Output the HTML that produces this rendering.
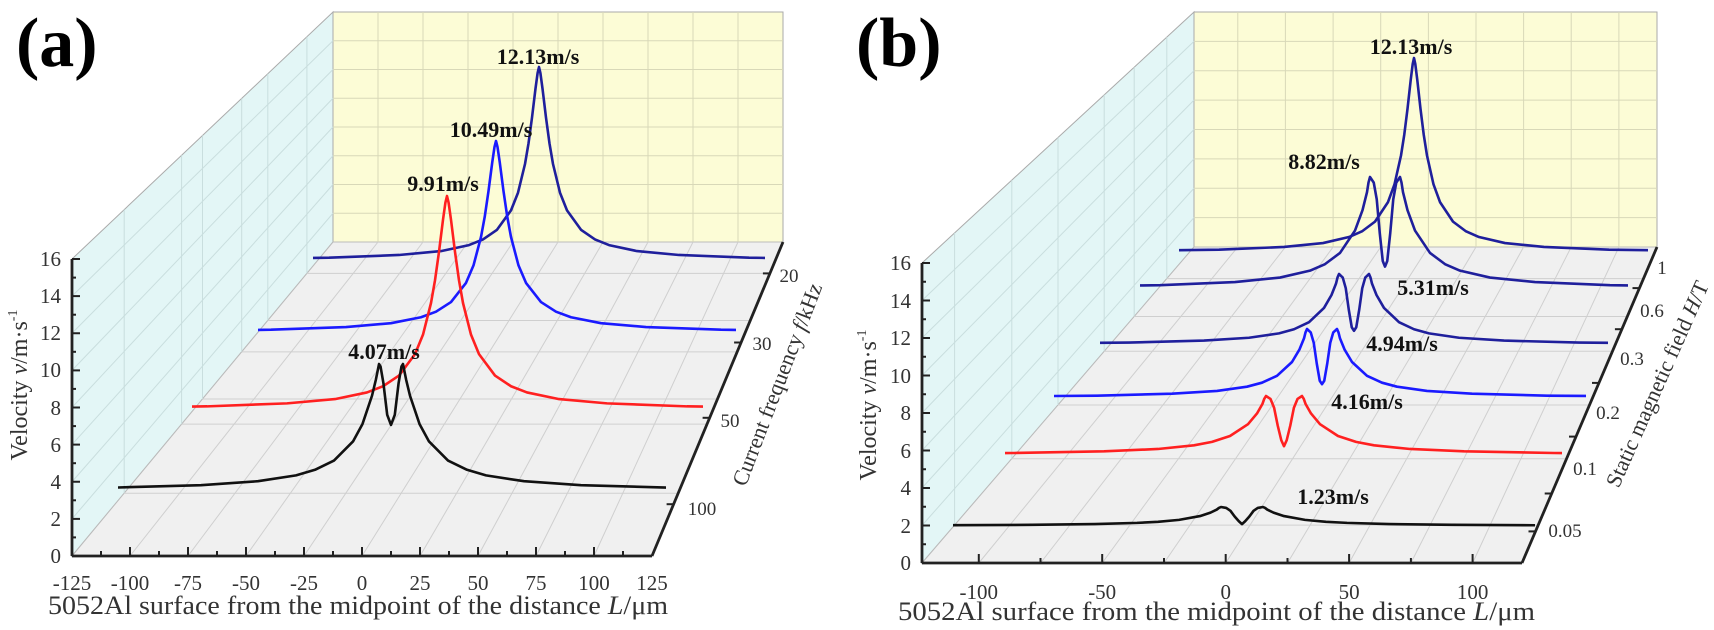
<!DOCTYPE html>
<html><head><meta charset="utf-8"><style>
html,body{margin:0;padding:0;background:#fff;}
svg{display:block;font-family:"Liberation Serif",serif;}
</style></head><body>
<svg width="1714" height="630" viewBox="0 0 1714 630" xmlns="http://www.w3.org/2000/svg" font-family="Liberation Serif, serif">
<defs>
<clipPath id="ca1"><rect x="313" y="0" width="452" height="630"/></clipPath>
<clipPath id="ca2"><rect x="258" y="0" width="478" height="630"/></clipPath>
<clipPath id="ca3"><rect x="192" y="0" width="511" height="630"/></clipPath>
<clipPath id="ca4"><rect x="118" y="0" width="548" height="630"/></clipPath>
<clipPath id="cb1"><rect x="1179" y="0" width="469" height="630"/></clipPath>
<clipPath id="cb2"><rect x="1140" y="0" width="488" height="630"/></clipPath>
<clipPath id="cb3"><rect x="1100" y="0" width="508" height="630"/></clipPath>
<clipPath id="cb4"><rect x="1054" y="0" width="532" height="630"/></clipPath>
<clipPath id="cb5"><rect x="1005" y="0" width="557" height="630"/></clipPath>
<clipPath id="cb6"><rect x="953" y="0" width="582" height="630"/></clipPath>
</defs>

<text x="16" y="66" font-size="70" font-weight="bold">(a)</text>
<text x="856" y="66" font-size="70" font-weight="bold">(b)</text>

<!-- ===== Panel A ===== -->
<polygon points="72,259 333,12 333,242 72,556" fill="#e3f6f6" stroke="#aaa"/>
<polygon points="333,12 783,12 783,242 333,242" fill="#fcfcd6" stroke="#aaa"/>
<polygon points="72,556 652,556 783,242 333,242" fill="#f0f0f0" stroke="#bbb"/>
<g stroke="#d8d8b8" stroke-width="1">
<line x1="333" y1="213.25" x2="783" y2="213.25"/><line x1="333" y1="184.5" x2="783" y2="184.5"/><line x1="333" y1="155.75" x2="783" y2="155.75"/><line x1="333" y1="127" x2="783" y2="127"/><line x1="333" y1="98.25" x2="783" y2="98.25"/><line x1="333" y1="69.5" x2="783" y2="69.5"/><line x1="333" y1="40.75" x2="783" y2="40.75"/>
<line x1="378" y1="242" x2="378" y2="12"/><line x1="423" y1="242" x2="423" y2="12"/><line x1="468" y1="242" x2="468" y2="12"/><line x1="513" y1="242" x2="513" y2="12"/><line x1="558" y1="242" x2="558" y2="12"/><line x1="603" y1="242" x2="603" y2="12"/><line x1="648" y1="242" x2="648" y2="12"/><line x1="693" y1="242" x2="693" y2="12"/><line x1="738" y1="242" x2="738" y2="12"/>
</g>
<g stroke="#c9dede" stroke-width="1">
<line x1="72" y1="518.9" x2="333" y2="213.25"/><line x1="72" y1="481.75" x2="333" y2="184.5"/><line x1="72" y1="444.6" x2="333" y2="155.75"/><line x1="72" y1="407.5" x2="333" y2="127"/><line x1="72" y1="370.4" x2="333" y2="98.25"/><line x1="72" y1="333.25" x2="333" y2="69.5"/><line x1="72" y1="296.1" x2="333" y2="40.75"/>
<line x1="124.2" y1="209.6" x2="124.2" y2="493.2"/><line x1="181.6" y1="155.3" x2="181.6" y2="424.1"/><line x1="202.5" y1="135.5" x2="202.5" y2="399"/><line x1="241.7" y1="98.5" x2="241.7" y2="351.9"/><line x1="267.8" y1="73.8" x2="267.8" y2="320.5"/><line x1="306.9" y1="36.7" x2="306.9" y2="273.4"/>
</g>
<g stroke="#cfcfcf" stroke-width="1">
<line x1="130" y1="556" x2="378" y2="242"/><line x1="188" y1="556" x2="423" y2="242"/><line x1="246" y1="556" x2="468" y2="242"/><line x1="304" y1="556" x2="513" y2="242"/><line x1="362" y1="556" x2="558" y2="242"/><line x1="420" y1="556" x2="603" y2="242"/><line x1="478" y1="556" x2="648" y2="242"/><line x1="536" y1="556" x2="693" y2="242"/><line x1="594" y1="556" x2="738" y2="242"/>
<line x1="124.2" y1="493.2" x2="678.2" y2="493.2"/><line x1="181.6" y1="424.1" x2="707" y2="424.1"/><line x1="202.5" y1="399" x2="717.5" y2="399"/><line x1="241.7" y1="351.9" x2="737.2" y2="351.9"/><line x1="267.8" y1="320.5" x2="750.3" y2="320.5"/><line x1="306.9" y1="273.4" x2="769.9" y2="273.4"/>
</g>
<g stroke="#222" stroke-width="2.8">
<line x1="72" y1="556" x2="652" y2="556"/><line x1="72" y1="259" x2="72" y2="556"/><line x1="652" y1="556" x2="783" y2="242"/>
</g>
<g stroke="#222" stroke-width="2">
<line x1="72" y1="556" x2="80" y2="556"/><line x1="72" y1="518.9" x2="80" y2="518.9"/><line x1="72" y1="481.75" x2="80" y2="481.75"/><line x1="72" y1="444.6" x2="80" y2="444.6"/><line x1="72" y1="407.5" x2="80" y2="407.5"/><line x1="72" y1="370.4" x2="80" y2="370.4"/><line x1="72" y1="333.25" x2="80" y2="333.25"/><line x1="72" y1="296.1" x2="80" y2="296.1"/><line x1="72" y1="259" x2="80" y2="259"/>
<line x1="72" y1="537.4" x2="76" y2="537.4"/><line x1="72" y1="500.3" x2="76" y2="500.3"/><line x1="72" y1="463.2" x2="76" y2="463.2"/><line x1="72" y1="426.1" x2="76" y2="426.1"/><line x1="72" y1="388.9" x2="76" y2="388.9"/><line x1="72" y1="351.8" x2="76" y2="351.8"/><line x1="72" y1="314.7" x2="76" y2="314.7"/><line x1="72" y1="277.6" x2="76" y2="277.6"/>
<line x1="130" y1="556" x2="130" y2="547"/><line x1="188" y1="556" x2="188" y2="547"/><line x1="246" y1="556" x2="246" y2="547"/><line x1="304" y1="556" x2="304" y2="547"/><line x1="362" y1="556" x2="362" y2="547"/><line x1="420" y1="556" x2="420" y2="547"/><line x1="478" y1="556" x2="478" y2="547"/><line x1="536" y1="556" x2="536" y2="547"/><line x1="594" y1="556" x2="594" y2="547"/>
<line x1="101" y1="556" x2="101" y2="551"/><line x1="159" y1="556" x2="159" y2="551"/><line x1="217" y1="556" x2="217" y2="551"/><line x1="275" y1="556" x2="275" y2="551"/><line x1="333" y1="556" x2="333" y2="551"/><line x1="391" y1="556" x2="391" y2="551"/><line x1="449" y1="556" x2="449" y2="551"/><line x1="507" y1="556" x2="507" y2="551"/><line x1="565" y1="556" x2="565" y2="551"/><line x1="623" y1="556" x2="623" y2="551"/>
<line x1="769.9" y1="273.4" x2="762.9" y2="273.4"/><line x1="741.1" y1="342.5" x2="734.1" y2="342.5"/><line x1="709.6" y1="417.8" x2="702.6" y2="417.8"/><line x1="673.6" y1="504.2" x2="666.6" y2="504.2"/>
</g>
<g font-size="21" fill="#333" text-anchor="end">
<text x="61" y="563">0</text><text x="61" y="526">2</text><text x="61" y="489">4</text><text x="61" y="452">6</text><text x="61" y="415">8</text><text x="61" y="377">10</text><text x="61" y="340">12</text><text x="61" y="303">14</text><text x="61" y="266">16</text>
</g>
<g font-size="21" fill="#333" text-anchor="middle">
<text x="72" y="590">-125</text><text x="130" y="590">-100</text><text x="188" y="590">-75</text><text x="246" y="590">-50</text><text x="304" y="590">-25</text><text x="362" y="590">0</text><text x="420" y="590">25</text><text x="478" y="590">50</text><text x="536" y="590">75</text><text x="594" y="590">100</text><text x="652" y="590">125</text>
</g>
<g font-size="19" fill="#333" text-anchor="middle">
<text x="789" y="282">20</text><text x="762" y="350">30</text><text x="730" y="427">50</text><text x="702" y="515">100</text>
</g>
<text x="48" y="614" font-size="26" fill="#333" textLength="620" lengthAdjust="spacingAndGlyphs">5052Al surface from the midpoint of the distance <tspan font-style="italic">L</tspan>/μm</text>
<text transform="translate(27,385) rotate(-90)" font-size="24" fill="#333" text-anchor="middle">Velocity <tspan font-style="italic">v</tspan>/m·s<tspan font-size="14" dy="-10">-1</tspan></text>
<text transform="translate(784,387) rotate(-69)" font-size="22" fill="#333" text-anchor="middle">Current frequency <tspan font-style="italic">f</tspan>/kHz</text>

<!-- curves A -->
<g fill="none" stroke-width="2.6" stroke-linejoin="round">
<g clip-path="url(#ca1)"><path vector-effect="non-scaling-stroke" stroke="#1f1f9c" transform="translate(539,261) scale(14,-194)" d="M-45,0.0033L-25,0.0079L-15,0.017L-10,0.031L-7,0.051L-5,0.082L-4,0.111L-3,0.161L-2,0.261L-1.5,0.352L-1,0.5L-0.75,0.606L-0.5,0.739L-0.25,0.889L-0.1,0.969L0,1L0.1,0.969L0.25,0.889L0.5,0.739L0.75,0.606L1,0.5L1.5,0.352L2,0.261L3,0.161L4,0.111L5,0.082L7,0.051L10,0.031L15,0.017L25,0.0079L45,0.0033"/></g>
<g clip-path="url(#ca2)"><path vector-effect="non-scaling-stroke" stroke="#1a1aff" transform="translate(496,333) scale(15,-192)" d="M-45,0.0033L-25,0.0079L-15,0.017L-10,0.031L-7,0.051L-5,0.082L-4,0.111L-3,0.161L-2,0.261L-1.5,0.352L-1,0.5L-0.75,0.606L-0.5,0.739L-0.25,0.889L-0.1,0.969L0,1L0.1,0.969L0.25,0.889L0.5,0.739L0.75,0.606L1,0.5L1.5,0.352L2,0.261L3,0.161L4,0.111L5,0.082L7,0.051L10,0.031L15,0.017L25,0.0079L45,0.0033"/></g>
<g clip-path="url(#ca3)"><path vector-effect="non-scaling-stroke" stroke="#ff2020" transform="translate(447,410) scale(16,-214)" d="M-45,0.0033L-25,0.0079L-15,0.017L-10,0.031L-7,0.051L-5,0.082L-4,0.111L-3,0.161L-2,0.261L-1.5,0.352L-1,0.5L-0.75,0.606L-0.5,0.739L-0.25,0.889L-0.1,0.969L0,1L0.1,0.969L0.25,0.889L0.5,0.739L0.75,0.606L1,0.5L1.5,0.352L2,0.261L3,0.161L4,0.111L5,0.082L7,0.051L10,0.031L15,0.017L25,0.0079L45,0.0033"/></g>
<g clip-path="url(#ca4)"><path vector-effect="non-scaling-stroke" stroke="#111" transform="translate(391,491) scale(19,-127)" d="M-45,0.005L-25,0.012L-15,0.025L-10,0.046L-7,0.077L-5,0.123L-4,0.167L-3,0.24L-2,0.39L-1.5,0.528L-1,0.75L-0.8,0.874L-0.63,1L-0.55,0.98L-0.4,0.85L-0.2,0.6L0,0.52L0.2,0.6L0.4,0.85L0.55,0.98L0.63,1L0.8,0.874L1,0.75L1.5,0.528L2,0.39L3,0.24L4,0.167L5,0.123L7,0.077L10,0.046L15,0.025L25,0.012L45,0.005"/></g>
</g>
<g font-size="22" font-weight="bold" fill="#111" text-anchor="middle">
<text x="538" y="64">12.13m/s</text><text x="491" y="137">10.49m/s</text><text x="443" y="191">9.91m/s</text><text x="384" y="359">4.07m/s</text>
</g>

<!-- ===== Panel B ===== -->
<polygon points="922,263 1194,12 1194,247 922,563" fill="#e3f6f6" stroke="#aaa"/>
<polygon points="1194,12 1657,12 1657,247 1194,247" fill="#fcfcd6" stroke="#aaa"/>
<polygon points="922,563 1522,563 1657,247 1194,247" fill="#f0f0f0" stroke="#bbb"/>
<g stroke="#d8d8b8" stroke-width="1">
<line x1="1194" y1="217.6" x2="1657" y2="217.6"/><line x1="1194" y1="188.25" x2="1657" y2="188.25"/><line x1="1194" y1="158.9" x2="1657" y2="158.9"/><line x1="1194" y1="129.5" x2="1657" y2="129.5"/><line x1="1194" y1="100.1" x2="1657" y2="100.1"/><line x1="1194" y1="70.75" x2="1657" y2="70.75"/><line x1="1194" y1="41.4" x2="1657" y2="41.4"/>
<line x1="1237.8" y1="247" x2="1237.8" y2="12"/><line x1="1285.4" y1="247" x2="1285.4" y2="12"/><line x1="1333.1" y1="247" x2="1333.1" y2="12"/><line x1="1380.7" y1="247" x2="1380.7" y2="12"/><line x1="1428.4" y1="247" x2="1428.4" y2="12"/><line x1="1476" y1="247" x2="1476" y2="12"/><line x1="1523.6" y1="247" x2="1523.6" y2="12"/><line x1="1571.2" y1="247" x2="1571.2" y2="12"/><line x1="1618.9" y1="247" x2="1618.9" y2="12"/>
</g>
<g stroke="#c9dede" stroke-width="1">
<line x1="922" y1="525.5" x2="1194" y2="217.6"/><line x1="922" y1="488" x2="1194" y2="188.25"/><line x1="922" y1="450.5" x2="1194" y2="158.9"/><line x1="922" y1="413" x2="1194" y2="129.5"/><line x1="922" y1="375.5" x2="1194" y2="100.1"/><line x1="922" y1="338" x2="1194" y2="70.75"/><line x1="922" y1="300.5" x2="1194" y2="41.4"/>
<line x1="954.6" y1="232.9" x2="954.6" y2="525.1"/><line x1="1011.8" y1="180.2" x2="1011.8" y2="458.7"/><line x1="1058" y1="137.5" x2="1058" y2="405"/><line x1="1104.2" y1="94.8" x2="1104.2" y2="351.3"/><line x1="1134.2" y1="67.2" x2="1134.2" y2="316.5"/><line x1="1166.8" y1="37.1" x2="1166.8" y2="278.6"/>
</g>
<g stroke="#cfcfcf" stroke-width="1">
<line x1="978.8" y1="563" x2="1237.8" y2="247"/><line x1="1040.5" y1="563" x2="1285.4" y2="247"/><line x1="1102.2" y1="563" x2="1333.1" y2="247"/><line x1="1164" y1="563" x2="1380.7" y2="247"/><line x1="1225.7" y1="563" x2="1428.4" y2="247"/><line x1="1287.5" y1="563" x2="1476" y2="247"/><line x1="1349.1" y1="563" x2="1523.6" y2="247"/><line x1="1410.9" y1="563" x2="1571.2" y2="247"/><line x1="1472.6" y1="563" x2="1618.9" y2="247"/>
<line x1="954.6" y1="525.1" x2="1538.2" y2="525.1"/><line x1="1011.8" y1="458.7" x2="1566.6" y2="458.7"/><line x1="1058" y1="405" x2="1589.5" y2="405"/><line x1="1104.2" y1="351.3" x2="1612.5" y2="351.3"/><line x1="1134.2" y1="316.5" x2="1627.3" y2="316.5"/><line x1="1166.8" y1="278.6" x2="1643.5" y2="278.6"/>
</g>
<g stroke="#222" stroke-width="2.8">
<line x1="922" y1="563" x2="1522" y2="563"/><line x1="922" y1="263" x2="922" y2="563"/><line x1="1522" y1="563" x2="1657" y2="247"/>
</g>
<g stroke="#222" stroke-width="2">
<line x1="922" y1="563" x2="930" y2="563"/><line x1="922" y1="525.5" x2="930" y2="525.5"/><line x1="922" y1="488" x2="930" y2="488"/><line x1="922" y1="450.5" x2="930" y2="450.5"/><line x1="922" y1="413" x2="930" y2="413"/><line x1="922" y1="375.5" x2="930" y2="375.5"/><line x1="922" y1="338" x2="930" y2="338"/><line x1="922" y1="300.5" x2="930" y2="300.5"/><line x1="922" y1="263" x2="930" y2="263"/>
<line x1="922" y1="544.25" x2="926" y2="544.25"/><line x1="922" y1="506.75" x2="926" y2="506.75"/><line x1="922" y1="469.25" x2="926" y2="469.25"/><line x1="922" y1="431.75" x2="926" y2="431.75"/><line x1="922" y1="394.25" x2="926" y2="394.25"/><line x1="922" y1="356.75" x2="926" y2="356.75"/><line x1="922" y1="319.25" x2="926" y2="319.25"/><line x1="922" y1="281.75" x2="926" y2="281.75"/>
<line x1="978.8" y1="563" x2="978.8" y2="554"/><line x1="1102.2" y1="563" x2="1102.2" y2="554"/><line x1="1225.7" y1="563" x2="1225.7" y2="554"/><line x1="1349.1" y1="563" x2="1349.1" y2="554"/><line x1="1472.6" y1="563" x2="1472.6" y2="554"/>
<line x1="1040.5" y1="563" x2="1040.5" y2="558"/><line x1="1164" y1="563" x2="1164" y2="558"/><line x1="1287.5" y1="563" x2="1287.5" y2="558"/><line x1="1410.9" y1="563" x2="1410.9" y2="558"/>
<line x1="1639.5" y1="288.1" x2="1632.5" y2="288.1"/><line x1="1621.9" y1="329.2" x2="1614.9" y2="329.2"/><line x1="1599" y1="382.9" x2="1592" y2="382.9"/><line x1="1576" y1="436.6" x2="1569" y2="436.6"/><line x1="1551.7" y1="493.5" x2="1544.7" y2="493.5"/><line x1="1535.5" y1="531.4" x2="1528.5" y2="531.4"/>
</g>
<g font-size="21" fill="#333" text-anchor="end">
<text x="911" y="570">0</text><text x="911" y="533">2</text><text x="911" y="495">4</text><text x="911" y="458">6</text><text x="911" y="420">8</text><text x="911" y="383">10</text><text x="911" y="345">12</text><text x="911" y="308">14</text><text x="911" y="270">16</text>
</g>
<g font-size="21" fill="#333" text-anchor="middle">
<text x="978.8" y="599">-100</text><text x="1102.2" y="599">-50</text><text x="1225.7" y="599">0</text><text x="1349.1" y="599">50</text><text x="1472.6" y="599">100</text>
</g>
<g font-size="19" fill="#333" text-anchor="middle">
<text x="1662" y="274">1</text><text x="1652" y="317">0.6</text><text x="1632" y="365">0.3</text><text x="1608" y="419">0.2</text><text x="1585" y="475">0.1</text><text x="1565" y="537">0.05</text>
</g>
<text x="898" y="620" font-size="26" fill="#333" textLength="637" lengthAdjust="spacingAndGlyphs">5052Al surface from the midpoint of the distance <tspan font-style="italic">L</tspan>/μm</text>
<text transform="translate(876,405) rotate(-90)" font-size="24" fill="#333" text-anchor="middle">Velocity <tspan font-style="italic">v</tspan>/m·s<tspan font-size="14" dy="-10">-1</tspan></text>
<text transform="translate(1664,387) rotate(-66)" font-size="22" fill="#333" text-anchor="middle">Static magnetic field <tspan font-style="italic">H</tspan>/T</text>

<!-- curves B -->
<g fill="none" stroke-width="2.6" stroke-linejoin="round">
<g clip-path="url(#cb1)"><path vector-effect="non-scaling-stroke" stroke="#1f1f9c" transform="translate(1414,253) scale(13,-195)" d="M-45,0.0033L-25,0.0079L-15,0.017L-10,0.031L-7,0.051L-5,0.082L-4,0.111L-3,0.161L-2,0.261L-1.5,0.352L-1,0.5L-0.75,0.606L-0.5,0.739L-0.25,0.889L-0.1,0.969L0,1L0.1,0.969L0.25,0.889L0.5,0.739L0.75,0.606L1,0.5L1.5,0.352L2,0.261L3,0.161L4,0.111L5,0.082L7,0.051L10,0.031L15,0.017L25,0.0079L45,0.0033"/></g>
<g clip-path="url(#cb2)"><path vector-effect="non-scaling-stroke" stroke="#1f1f9c" transform="translate(1385,289) scale(15,-112)" d="M-45,0.0066L-25,0.016L-15,0.034L-10,0.062L-7,0.102L-5,0.164L-4,0.222L-3,0.322L-2,0.522L-1.5,0.704L-1.2,0.864L-1.1,0.95L-1,1L-0.75,0.95L-0.55,0.8L-0.35,0.5L-0.15,0.25L0,0.2L0.15,0.25L0.35,0.5L0.55,0.8L0.75,0.95L1,1L1.1,0.95L1.2,0.864L1.5,0.704L2,0.522L3,0.322L4,0.222L5,0.164L7,0.102L10,0.062L15,0.034L25,0.016L45,0.0066"/></g>
<g clip-path="url(#cb3)"><path vector-effect="non-scaling-stroke" stroke="#1f1f9c" transform="translate(1354,345) scale(15,-71)" d="M-45,0.0066L-25,0.016L-15,0.034L-10,0.062L-7,0.102L-5,0.164L-4,0.222L-3,0.322L-2,0.522L-1.5,0.704L-1.2,0.864L-1.1,0.95L-1,1L-0.75,0.95L-0.55,0.8L-0.35,0.5L-0.15,0.25L0,0.2L0.15,0.25L0.35,0.5L0.55,0.8L0.75,0.95L1,1L1.1,0.95L1.2,0.864L1.5,0.704L2,0.522L3,0.322L4,0.222L5,0.164L7,0.102L10,0.062L15,0.034L25,0.016L45,0.0066"/></g>
<g clip-path="url(#cb4)"><path vector-effect="non-scaling-stroke" stroke="#1a1aff" transform="translate(1322,398) scale(15,-69)" d="M-45,0.0066L-25,0.016L-15,0.034L-10,0.062L-7,0.102L-5,0.164L-4,0.222L-3,0.322L-2,0.522L-1.5,0.704L-1.2,0.864L-1.1,0.95L-1,1L-0.75,0.95L-0.55,0.8L-0.35,0.5L-0.15,0.25L0,0.2L0.15,0.25L0.35,0.5L0.55,0.8L0.75,0.95L1,1L1.1,0.95L1.2,0.864L1.5,0.704L2,0.522L3,0.322L4,0.222L5,0.164L7,0.102L10,0.062L15,0.034L25,0.016L45,0.0066"/></g>
<g clip-path="url(#cb5)"><path vector-effect="non-scaling-stroke" stroke="#ff2020" transform="translate(1284,455) scale(18,-59)" d="M-45,0.0066L-25,0.016L-15,0.034L-10,0.062L-7,0.102L-5,0.164L-4,0.222L-3,0.322L-2,0.522L-1.5,0.704L-1.2,0.864L-1.1,0.95L-1,1L-0.75,0.95L-0.55,0.8L-0.35,0.5L-0.15,0.25L0,0.15L0.15,0.25L0.35,0.5L0.55,0.8L0.75,0.95L1,1L1.1,0.95L1.2,0.864L1.5,0.704L2,0.522L3,0.322L4,0.222L5,0.164L7,0.102L10,0.062L15,0.034L25,0.016L45,0.0066"/></g>
<g clip-path="url(#cb6)"><path vector-effect="non-scaling-stroke" stroke="#111" transform="translate(1242,526) scale(21,-19)" d="M-45,0.0066L-25,0.016L-15,0.034L-10,0.062L-7,0.102L-5,0.164L-4,0.222L-3,0.322L-2,0.522L-1.5,0.704L-1.2,0.864L-1.1,0.95L-1,1L-0.75,0.95L-0.55,0.8L-0.35,0.5L-0.15,0.25L0,0.1L0.15,0.25L0.35,0.5L0.55,0.8L0.75,0.95L1,1L1.1,0.95L1.2,0.864L1.5,0.704L2,0.522L3,0.322L4,0.222L5,0.164L7,0.102L10,0.062L15,0.034L25,0.016L45,0.0066"/></g>
</g>
<g font-size="22" font-weight="bold" fill="#111" text-anchor="middle">
<text x="1411" y="54">12.13m/s</text><text x="1324" y="169">8.82m/s</text><text x="1433" y="295">5.31m/s</text><text x="1402" y="351">4.94m/s</text><text x="1367" y="409">4.16m/s</text><text x="1333" y="504">1.23m/s</text>
</g>
</svg>
</body></html>
